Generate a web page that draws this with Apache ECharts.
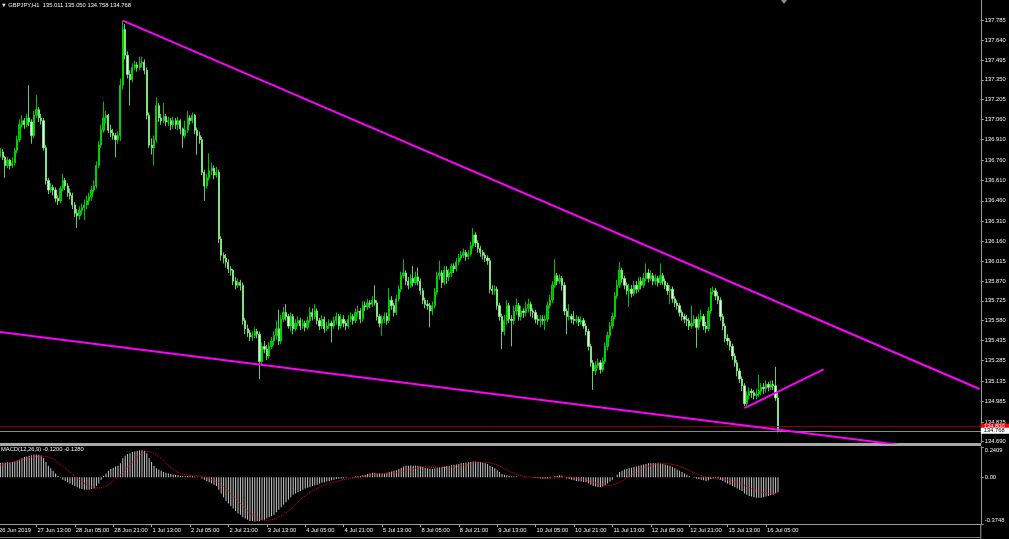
<!DOCTYPE html>
<html><head><meta charset="utf-8">
<script src="https://cdn.jsdelivr.net/npm/echarts@6/dist/echarts.min.js"></script>
<style>html,body{margin:0;padding:0;background:#000;overflow:hidden}#c{width:1009px;height:539px}</style>
</head><body><div id="c"></div>
<script>
// ---- data (GBPJPY H1) ----
const titleText = '\u25BC GBPJPY,H1  135.011 135.050 134.758 134.768';
const macdTitle = 'MACD(12,26,9) -0.1200 -0.1280';
const tickLabels = ['26 Jun 2019','27 Jun 13:00','28 Jun 05:00','28 Jun 21:00','1 Jul 13:00','2 Jul 05:00','2 Jul 21:00','3 Jul 13:00','4 Jul 05:00','4 Jul 21:00','5 Jul 13:00','8 Jul 05:00','8 Jul 21:00','9 Jul 13:00','10 Jul 05:00','10 Jul 21:00','11 Jul 13:00','12 Jul 05:00','12 Jul 21:00','15 Jul 13:00','16 Jul 05:00'];
const priceTicks = ['137.785','137.640','137.495','137.350','137.205','137.060','136.910','136.760','136.610','136.460','136.310','136.160','136.015','135.870','135.725','135.580','135.435','135.285','135.135','134.985','134.835','134.690'];
const macdTicks = [0.2409, 0, -0.3748];
const open0 = 136.78;
const closes = [
136.80,136.82,136.78,136.72,136.76,136.72,136.74,136.83,136.91,137.02,
137.05,137.02,137.07,137.04,136.94,137.09,137.13,137.07,137.05,136.85,
136.61,136.54,136.56,136.54,136.48,136.46,136.55,136.61,136.57,136.52,
136.50,136.43,136.37,136.35,136.39,136.41,136.43,136.46,136.49,136.54,
136.57,136.72,136.87,136.98,137.07,137.09,136.98,136.96,136.94,136.91,
136.94,137.31,137.72,137.53,137.39,137.35,137.44,137.46,137.44,137.47,
137.48,137.42,137.09,136.87,136.85,136.91,137.16,137.07,137.05,137.08,
137.04,137.05,137.02,137.05,137.02,137.05,136.99,136.94,136.98,137.07,
137.05,137.09,136.98,136.94,136.91,136.67,136.57,136.63,136.68,136.70,
136.65,136.67,136.18,136.06,136.04,136.01,135.96,135.95,135.87,135.84,
135.86,135.84,135.58,135.52,135.49,135.46,135.47,135.50,135.48,135.28,
135.39,135.37,135.32,135.39,135.43,135.47,135.52,135.43,135.59,135.64,
135.61,135.54,135.61,135.52,135.56,135.58,135.54,135.56,135.53,135.58,
135.64,135.61,135.65,135.58,135.54,135.59,135.52,135.54,135.56,135.54,
135.58,135.61,135.54,135.59,135.56,135.54,135.59,135.61,135.58,135.64,
135.65,135.59,135.69,135.68,135.71,135.70,135.73,135.71,135.61,135.56,
135.59,135.61,135.58,135.73,135.69,135.64,135.74,135.81,135.91,135.93,
135.87,135.84,135.89,135.86,135.90,135.87,135.80,135.73,135.70,135.69,
135.65,135.69,135.79,135.91,135.93,135.86,135.95,135.90,135.93,135.98,
135.96,136.01,136.04,136.06,136.08,136.05,136.07,136.13,136.21,136.15,
136.11,136.08,136.06,136.04,136.02,135.81,135.80,135.81,135.69,135.61,
135.50,135.58,135.69,135.59,135.58,135.65,135.69,135.61,135.65,135.64,
135.67,135.70,135.65,135.64,135.59,135.58,135.59,135.58,135.59,135.69,
135.73,135.84,135.91,135.87,135.89,135.84,135.65,135.61,135.61,135.59,
135.58,135.59,135.57,135.58,135.54,135.50,135.39,135.27,135.21,135.25,
135.27,135.22,135.28,135.39,135.47,135.54,135.61,135.76,135.84,135.95,
135.89,135.84,135.80,135.81,135.78,135.84,135.81,135.87,135.84,135.89,
135.93,135.89,135.91,135.87,135.89,135.86,135.91,135.87,135.84,135.80,
135.81,135.74,135.71,135.69,135.64,135.61,135.59,135.58,135.54,135.56,
135.59,135.53,135.59,135.61,135.54,135.52,135.65,135.79,135.80,135.76,
135.73,135.61,135.54,135.45,135.43,135.39,135.32,135.27,135.21,135.15,
135.10,134.97,135.03,135.06,135.05,135.03,135.04,135.06,135.09,135.08,
135.11,135.09,135.11,135.10,135.011,134.768];
const highs = [
136.84,136.85,136.84,136.79,136.78,136.77,136.78,136.85,136.94,137.06,
137.09,137.07,137.10,137.31,137.06,137.12,137.24,137.15,137.10,137.07,
136.87,136.63,136.59,136.58,136.56,136.50,136.57,136.66,136.63,136.59,
136.55,136.52,136.45,136.40,136.42,136.44,136.47,136.50,136.52,136.57,
136.61,136.75,136.90,137.02,137.19,137.12,137.10,137.02,136.99,136.96,
136.97,137.36,137.785,137.76,137.56,137.42,137.47,137.49,137.48,137.52,
137.52,137.50,137.44,137.11,136.92,136.94,137.22,137.18,137.10,137.18,
137.10,137.08,137.07,137.08,137.07,137.08,137.06,137.00,137.05,137.12,
137.09,137.11,137.10,137.00,136.97,136.93,136.69,136.66,136.81,136.74,
136.72,136.71,136.69,136.20,136.08,136.07,136.03,135.98,135.96,135.90,
135.89,135.88,135.86,135.60,135.55,135.51,135.50,135.53,135.52,135.50,
135.42,135.43,135.40,135.42,135.46,135.50,135.58,135.66,135.62,135.68,
135.70,135.63,135.64,135.63,135.59,135.61,135.60,135.59,135.58,135.61,
135.68,135.67,135.70,135.67,135.60,135.62,135.61,135.57,135.59,135.58,
135.61,135.64,135.63,135.63,135.62,135.58,135.62,135.64,135.63,135.67,
135.69,135.67,135.72,135.72,135.74,135.73,135.76,135.84,135.73,135.63,
135.62,135.64,135.64,135.82,135.76,135.71,135.77,135.84,135.94,136.03,
135.95,135.90,135.92,135.98,135.94,135.97,135.89,135.82,135.75,135.73,
135.71,135.72,135.82,135.94,136.02,135.95,135.98,135.98,135.96,136.00,
136.00,136.04,136.07,136.09,136.11,136.10,136.10,136.16,136.26,136.23,
136.17,136.13,136.10,136.08,136.06,136.04,135.84,135.84,135.83,135.71,
135.63,135.62,135.73,135.71,135.62,135.69,135.74,135.71,135.69,135.67,
135.72,135.74,135.72,135.67,135.66,135.62,135.62,135.62,135.62,135.72,
135.77,135.87,136.03,135.93,135.92,135.91,135.86,135.67,135.70,135.63,
135.65,135.62,135.61,135.61,135.60,135.56,135.52,135.41,135.29,135.28,
135.30,135.29,135.31,135.42,135.50,135.57,135.64,135.79,135.88,136.01,
135.97,135.91,135.86,135.85,135.84,135.87,135.87,135.90,135.90,135.93,
136.00,135.96,135.95,135.93,135.92,135.91,136.00,135.93,135.89,135.86,
135.84,135.83,135.76,135.73,135.71,135.66,135.63,135.62,135.60,135.69,
135.62,135.61,135.63,135.66,135.63,135.57,135.68,135.82,135.83,135.82,
135.79,135.75,135.63,135.56,135.48,135.45,135.41,135.34,135.29,135.23,
135.17,135.12,135.06,135.09,135.08,135.07,135.08,135.18,135.12,135.12,
135.14,135.13,135.14,135.14,135.24,135.050];
const lows = [
136.75,136.78,136.76,136.63,136.70,136.69,136.70,136.72,136.81,136.89,
137.00,136.99,137.00,137.01,136.88,136.92,137.07,137.04,137.02,136.83,
136.58,136.51,136.52,136.50,136.45,136.43,136.44,136.53,136.54,136.49,
136.47,136.40,136.34,136.26,136.32,136.36,136.32,136.40,136.43,136.46,
136.52,136.55,136.70,136.85,136.96,137.03,136.96,136.93,136.91,136.78,
136.88,136.90,137.28,137.50,137.36,137.16,137.33,137.42,137.41,137.42,
137.44,137.39,137.06,136.85,136.80,136.72,136.89,137.04,137.02,137.03,
137.01,137.01,136.98,136.99,136.99,136.98,136.95,136.85,136.92,136.96,
137.02,137.03,136.95,136.80,136.88,136.65,136.46,136.55,136.61,136.65,
136.62,136.63,136.15,136.02,136.00,135.97,135.93,135.91,135.84,135.81,
135.82,135.80,135.55,135.48,135.46,135.43,135.43,135.45,135.45,135.15,
135.26,135.34,135.29,135.30,135.37,135.40,135.44,135.40,135.41,135.57,
135.58,135.52,135.50,135.48,135.50,135.54,135.51,135.52,135.50,135.51,
135.56,135.58,135.59,135.55,135.51,135.52,135.49,135.50,135.52,135.42,
135.52,135.55,135.51,135.52,135.53,135.51,135.52,135.57,135.55,135.56,
135.61,135.56,135.57,135.65,135.66,135.67,135.68,135.69,135.58,135.53,
135.47,135.56,135.55,135.56,135.66,135.61,135.62,135.72,135.79,135.89,
135.84,135.81,135.82,135.83,135.84,135.84,135.77,135.70,135.67,135.66,
135.53,135.62,135.67,135.77,135.88,135.82,135.84,135.85,135.87,135.90,
135.93,135.94,135.99,136.02,136.04,136.02,136.03,136.05,136.11,136.12,
136.08,136.05,136.03,136.01,135.99,135.78,135.77,135.77,135.66,135.58,
135.37,135.47,135.55,135.56,135.39,135.55,135.62,135.58,135.58,135.60,
135.61,135.64,135.61,135.60,135.56,135.55,135.53,135.55,135.51,135.57,
135.67,135.71,135.82,135.84,135.85,135.80,135.62,135.48,135.58,135.56,
135.55,135.56,135.54,135.55,135.52,135.47,135.36,135.24,135.07,135.18,
135.23,135.19,135.20,135.26,135.36,135.45,135.52,135.59,135.74,135.82,
135.86,135.81,135.77,135.68,135.75,135.76,135.78,135.79,135.81,135.82,
135.87,135.86,135.87,135.84,135.84,135.83,135.84,135.84,135.81,135.77,
135.70,135.71,135.68,135.66,135.61,135.58,135.56,135.54,135.51,135.52,
135.54,135.38,135.51,135.57,135.51,135.49,135.50,135.63,135.77,135.73,
135.70,135.58,135.51,135.42,135.40,135.36,135.29,135.24,135.17,135.12,
135.06,134.95,134.95,135.00,135.01,135.00,135.00,135.02,135.03,135.04,
135.05,135.06,135.07,135.07,134.99,134.758];
const macd = [
0.110,0.112,0.115,0.117,0.118,0.117,0.120,0.125,0.132,0.140,
0.150,0.160,0.165,0.170,0.175,0.180,0.180,0.178,0.172,0.150,
0.120,0.090,0.070,0.050,0.030,0.010,-0.005,-0.020,-0.030,-0.040,
-0.050,-0.060,-0.070,-0.080,-0.090,-0.095,-0.100,-0.100,-0.100,-0.095,
-0.090,-0.070,-0.050,-0.020,0.010,0.030,0.050,0.065,0.075,0.085,
0.090,0.110,0.150,0.170,0.185,0.190,0.200,0.205,0.210,0.215,
0.215,0.210,0.190,0.150,0.120,0.090,0.070,0.060,0.050,0.040,
0.035,0.030,0.025,0.020,0.018,0.015,0.012,0.010,0.008,0.010,
0.012,0.010,0.006,0.004,0.000,-0.010,-0.020,-0.030,-0.040,-0.050,
-0.060,-0.070,-0.100,-0.130,-0.160,-0.190,-0.210,-0.230,-0.250,-0.270,
-0.290,-0.300,-0.320,-0.330,-0.340,-0.350,-0.350,-0.355,-0.350,-0.350,
-0.345,-0.340,-0.330,-0.320,-0.310,-0.300,-0.280,-0.260,-0.240,-0.220,
-0.200,-0.180,-0.160,-0.140,-0.130,-0.120,-0.110,-0.100,-0.090,-0.085,
-0.080,-0.070,-0.065,-0.060,-0.050,-0.045,-0.040,-0.035,-0.030,-0.025,
-0.020,-0.015,-0.012,-0.010,-0.008,-0.005,-0.003,0.000,0.002,0.005,
0.008,0.010,0.015,0.020,0.025,0.030,0.035,0.035,0.030,0.030,
0.028,0.030,0.035,0.040,0.045,0.050,0.055,0.065,0.075,0.085,
0.090,0.090,0.092,0.090,0.090,0.088,0.085,0.080,0.075,0.070,
0.065,0.065,0.068,0.075,0.080,0.082,0.085,0.088,0.090,0.095,
0.098,0.100,0.105,0.110,0.112,0.115,0.118,0.120,0.125,0.125,
0.122,0.120,0.115,0.110,0.105,0.090,0.080,0.070,0.055,0.040,
0.025,0.020,0.015,0.010,0.005,0.005,0.005,0.000,0.000,-0.002,
-0.003,0.000,0.000,-0.002,-0.005,-0.008,-0.010,-0.012,-0.013,-0.010,
-0.008,0.000,0.008,0.012,0.015,0.012,0.000,-0.010,-0.015,-0.020,
-0.025,-0.030,-0.032,-0.035,-0.038,-0.040,-0.048,-0.060,-0.070,-0.075,
-0.078,-0.080,-0.075,-0.065,-0.050,-0.035,-0.020,0.000,0.020,0.040,
0.050,0.060,0.065,0.070,0.075,0.080,0.085,0.090,0.095,0.100,
0.105,0.110,0.110,0.112,0.110,0.110,0.108,0.105,0.100,0.095,
0.090,0.080,0.070,0.060,0.050,0.040,0.030,0.020,0.010,0.000,
-0.005,-0.010,-0.015,-0.020,-0.025,-0.030,-0.025,-0.015,-0.010,-0.008,
-0.010,-0.020,-0.030,-0.040,-0.050,-0.060,-0.070,-0.080,-0.090,-0.100,
-0.110,-0.130,-0.140,-0.150,-0.155,-0.160,-0.165,-0.165,-0.165,-0.160,
-0.155,-0.150,-0.145,-0.140,-0.130,-0.120];
const signal = [
0.090,0.095,0.100,0.105,0.110,0.115,0.120,0.125,0.130,0.135,
0.140,0.145,0.150,0.155,0.160,0.162,0.165,0.167,0.168,0.168,
0.165,0.160,0.155,0.145,0.130,0.115,0.100,0.085,0.070,0.055,
0.040,0.025,0.010,-0.005,-0.020,-0.035,-0.050,-0.060,-0.070,-0.078,
-0.085,-0.088,-0.088,-0.085,-0.080,-0.070,-0.060,-0.045,-0.030,-0.015,
0.000,0.020,0.040,0.060,0.080,0.100,0.120,0.140,0.160,0.175,
0.190,0.200,0.205,0.205,0.200,0.190,0.180,0.165,0.150,0.130,
0.110,0.090,0.075,0.060,0.050,0.040,0.030,0.025,0.020,0.018,
0.015,0.012,0.010,0.010,0.008,0.005,0.000,-0.005,-0.010,-0.020,
-0.025,-0.035,-0.045,-0.060,-0.075,-0.090,-0.110,-0.130,-0.150,-0.170,
-0.190,-0.210,-0.230,-0.250,-0.270,-0.290,-0.300,-0.315,-0.325,-0.335,
-0.340,-0.345,-0.345,-0.345,-0.340,-0.335,-0.330,-0.320,-0.310,-0.300,
-0.285,-0.270,-0.255,-0.240,-0.220,-0.200,-0.180,-0.165,-0.150,-0.135,
-0.120,-0.110,-0.100,-0.090,-0.080,-0.070,-0.060,-0.055,-0.050,-0.045,
-0.040,-0.035,-0.030,-0.025,-0.020,-0.017,-0.014,-0.010,-0.008,-0.005,
-0.002,0.000,0.003,0.006,0.010,0.013,0.016,0.020,0.022,0.025,
0.027,0.028,0.030,0.031,0.032,0.034,0.036,0.040,0.044,0.048,
0.053,0.058,0.063,0.068,0.072,0.076,0.079,0.081,0.082,0.082,
0.081,0.080,0.079,0.078,0.077,0.077,0.077,0.078,0.079,0.080,
0.082,0.085,0.088,0.092,0.096,0.100,0.104,0.108,0.112,0.115,
0.117,0.118,0.119,0.119,0.118,0.115,0.110,0.104,0.097,0.088,
0.078,0.067,0.057,0.047,0.038,0.030,0.022,0.016,0.010,0.006,
0.003,0.002,0.000,0.000,-0.002,-0.003,-0.005,-0.007,-0.008,-0.009,
-0.009,-0.008,-0.006,-0.004,-0.002,0.000,0.000,0.000,-0.002,-0.004,
-0.007,-0.010,-0.013,-0.017,-0.021,-0.025,-0.030,-0.035,-0.040,-0.046,
-0.052,-0.057,-0.062,-0.065,-0.066,-0.065,-0.062,-0.057,-0.050,-0.040,
-0.030,-0.020,-0.008,0.005,0.018,0.030,0.042,0.053,0.063,0.072,
0.080,0.087,0.093,0.098,0.102,0.105,0.107,0.108,0.108,0.107,
0.105,0.102,0.098,0.093,0.087,0.080,0.072,0.063,0.054,0.045,
0.036,0.027,0.019,0.012,0.006,0.000,-0.005,-0.009,-0.012,-0.014,
-0.016,-0.017,-0.018,-0.020,-0.022,-0.025,-0.030,-0.035,-0.041,-0.048,
-0.056,-0.065,-0.074,-0.083,-0.092,-0.100,-0.108,-0.115,-0.120,-0.124,
-0.127,-0.129,-0.130,-0.130,-0.129,-0.128];
// trend lines: [bar index, price]
const upperLine = [[52, 137.785], [409, 135.077]];
const lowerLine = [[0, 135.498], [409, 134.592]];
const shortLine = [[311, 134.937], [344, 135.221]];
const bidPrice = 134.768;
const askPrice = 134.800;
const SLOTS = 410;   // bars + empty space to the right (chart shift)

// ---- build categories (hourly, weekends skipped) ----
const categories = [];
let t = Date.UTC(2019, 5, 26, 21);
while (categories.length < SLOTS) {
  const d = new Date(t);
  const wd = d.getUTCDay();
  if (wd !== 0 && wd !== 6) categories.push(d.toISOString().slice(0, 16).replace('T', ' '));
  t += 3600000;
}
const candles = closes.map((c, i) => [i === 0 ? open0 : closes[i - 1], c, lows[i], highs[i]]);

const FONT = '"Liberation Sans", Arial, sans-serif';
const FS = 5.8;
const TXT = '#f0f0f0';
const AX = '#9a9a9a';
const GRIDL = -3.2, GRIDW = SLOTS * 2.4;
const showTick = (i) => i % 16 === 0 && i / 16 < tickLabels.length;

const chart = echarts.init(document.getElementById('c'), null, {renderer: 'canvas'});
chart.setOption({
  backgroundColor: '#000',
  animation: false,
  title: [
    {text: titleText, left: 1, top: 2, padding: 0, textStyle: {color: TXT, fontSize: FS, fontWeight: 'normal', fontFamily: FONT}},
    {text: macdTitle, left: 1, top: 446, padding: 0, textStyle: {color: TXT, fontSize: FS, fontWeight: 'normal', fontFamily: FONT}}
  ],
  grid: [
    {left: GRIDL, width: GRIDW, top: 0, height: 443, outerBoundsMode: 'none', containLabel: false},
    {left: GRIDL, width: GRIDW, top: 447, height: 77, outerBoundsMode: 'none', containLabel: false}
  ],
  xAxis: [
    {type: 'category', gridIndex: 0, data: categories, boundaryGap: true,
     axisLine: {show: false}, axisTick: {show: false}, axisLabel: {show: false}, splitLine: {show: false}},
    {type: 'category', gridIndex: 1, data: categories, boundaryGap: true,
     axisLine: {show: true, onZero: false, lineStyle: {color: AX, width: 1}},
     axisTick: {show: true, alignWithLabel: true, interval: showTick, length: 3, lineStyle: {color: AX}},
     axisLabel: {show: true, interval: showTick, formatter: (v, i) => tickLabels[i / 16],
       color: TXT, fontSize: FS, fontFamily: FONT, align: 'left', margin: 3, padding: [0, 0, 0, 1]},
     splitLine: {show: false}}
  ],
  yAxis: [
    {type: 'value', gridIndex: 0, position: 'right', min: 134.680, max: 137.937, scale: true,
     axisLine: {show: true, lineStyle: {color: AX}},
     axisTick: {show: true, customValues: priceTicks.map(Number), length: 3, lineStyle: {color: AX}},
     axisLabel: {show: true, customValues: priceTicks.map(Number), formatter: (v) => v.toFixed(3),
       color: TXT, fontSize: FS, fontFamily: FONT, margin: 4},
     splitLine: {show: false}},
    {type: 'value', gridIndex: 1, position: 'right', min: -0.3748, max: 0.2409,
     axisLine: {show: true, lineStyle: {color: AX}},
     axisTick: {show: true, customValues: macdTicks, length: 3, lineStyle: {color: AX}},
     axisLabel: {show: true, customValues: macdTicks,
       formatter: (v) => v === 0 ? '{m|0.00}' : (v > 0 ? '{t|' + v.toFixed(4) + '}' : '{b|' + v.toFixed(4) + '}'),
       rich: {
         t: {color: TXT, fontSize: FS, fontFamily: FONT, padding: [6, 0, 0, 0]},
         m: {color: TXT, fontSize: FS, fontFamily: FONT},
         b: {color: TXT, fontSize: FS, fontFamily: FONT, padding: [0, 0, 7, 0]}
       },
       color: TXT, fontSize: FS, fontFamily: FONT, margin: 4},
     splitLine: {show: false}}
  ],
  series: [
    {type: 'candlestick', xAxisIndex: 0, yAxisIndex: 0, data: candles, barWidth: 1.7,
     itemStyle: {color: '#00b000', color0: '#eaffea', borderColor: '#00f000', borderColor0: '#80ff80', borderWidth: 0.8},
     markLine: {symbol: 'none', silent: true, animation: false,
       data: [
         {yAxis: askPrice, lineStyle: {color: '#8b0000', width: 1, type: 'solid'},
          label: {show: true, position: 'end', distance: 0, formatter: askPrice.toFixed(3), color: '#fff', backgroundColor: '#ff0000', fontSize: FS, fontFamily: FONT, padding: [0, 6, 0, 3]}},
         {yAxis: bidPrice, lineStyle: {color: '#8a8a8a', width: 1, type: 'solid'},
          label: {show: true, position: 'end', distance: 0, formatter: bidPrice.toFixed(3), color: '#000', backgroundColor: '#ffffff', fontSize: FS, fontFamily: FONT, padding: [0, 6, 0, 3]}}
       ]}},
    {type: 'line', xAxisIndex: 0, yAxisIndex: 0, data: upperLine, symbol: 'none', lineStyle: {color: '#ff00ff', width: 2}, clip: true, z: 5},
    {type: 'line', xAxisIndex: 0, yAxisIndex: 0, data: lowerLine, symbol: 'none', lineStyle: {color: '#ff00ff', width: 2}, clip: true, z: 5},
    {type: 'line', xAxisIndex: 0, yAxisIndex: 0, data: shortLine, symbol: 'none', lineStyle: {color: '#ff00ff', width: 2}, clip: true, z: 5},
    {type: 'bar', xAxisIndex: 1, yAxisIndex: 1, data: macd, barWidth: 1, itemStyle: {color: '#c8c8c8'}},
    {type: 'line', xAxisIndex: 1, yAxisIndex: 1, data: signal, symbol: 'none', lineStyle: {color: '#ff0000', width: 1, type: 'dotted'}, z: 5}
  ],
  graphic: [
    {type: 'rect', shape: {x: 0, y: 443, width: 981, height: 3}, style: {fill: '#a8a8a8'}, silent: true},
    {type: 'rect', shape: {x: 980.3, y: 524, width: 1, height: 15}, style: {fill: AX}, silent: true},
    {type: 'rect', shape: {x: 0, y: 537, width: 981, height: 1}, style: {fill: '#7a7a7a'}, silent: true},
    {type: 'polygon', shape: {points: [[781, 0], [787, 0], [784, 4]]}, style: {fill: '#8a8a8a'}, silent: true}
  ]
});
</script>
</body></html>
